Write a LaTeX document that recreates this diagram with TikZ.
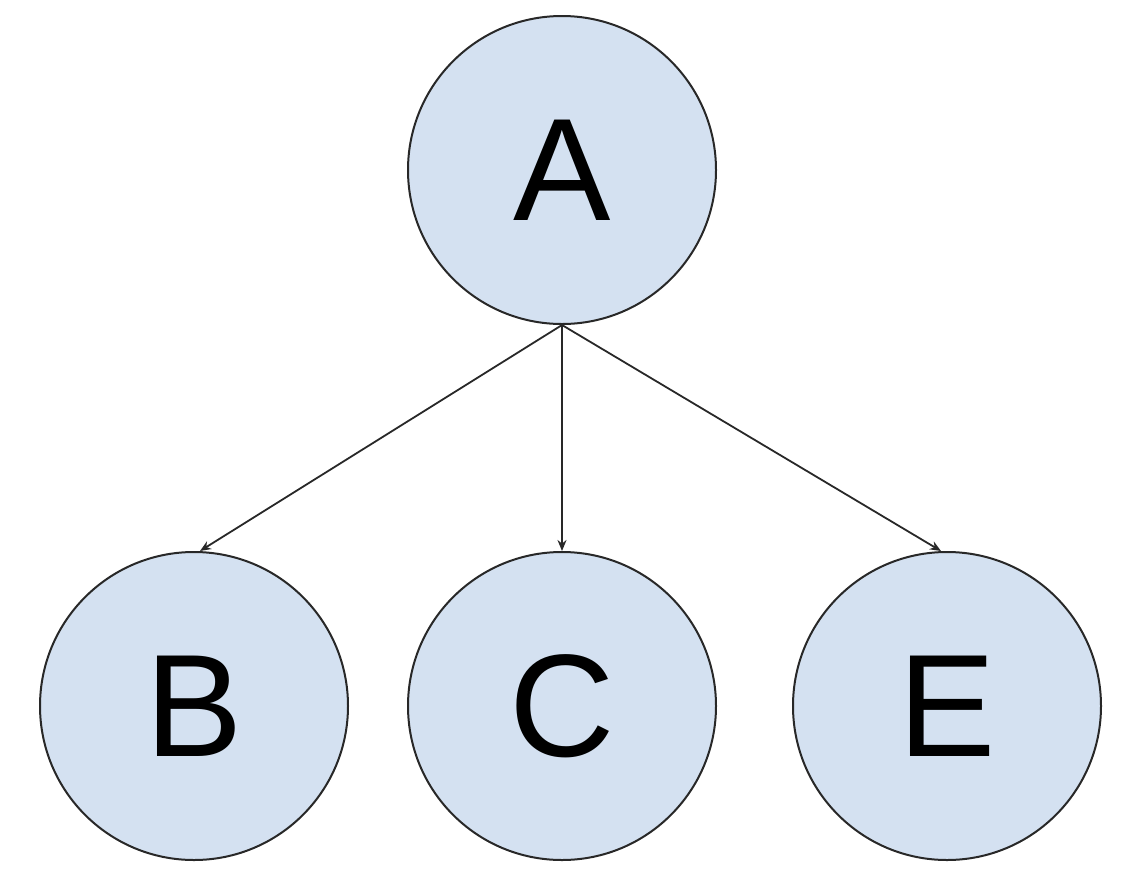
\documentclass[tikz,border=0pt]{standalone}
\usepackage{fontspec}
\setmainfont{Liberation Sans}
\usetikzlibrary{arrows.meta}
\definecolor{nodefill}{RGB}{212,225,241}
\definecolor{edgecol}{RGB}{40,40,40}
\begin{document}
\begin{tikzpicture}[x=1pt,y=-1pt,
  vert/.style={circle,draw=edgecol,fill=nodefill,line width=2pt,minimum size=308pt,inner sep=0pt,
    font=\fontsize{146pt}{146pt}\selectfont},
  conn/.style={draw=edgecol,line width=1.8pt,-{Stealth[length=11pt,width=9pt]}}]
\useasboundingbox (0,0) rectangle (1122,892);
\node[vert] (A) at (562,170) {A};
\node[vert] (B) at (194,706) {B};
\node[vert] (C) at (562,706) {C};
\node[vert] (E) at (947,706) {E};
\draw[conn] (A.south) -- ([xshift=6pt]B.north);
\draw[conn] (A.south) -- (C.north);
\draw[conn] (A.south) -- ([xshift=-6pt]E.north);
\end{tikzpicture}
\end{document}
